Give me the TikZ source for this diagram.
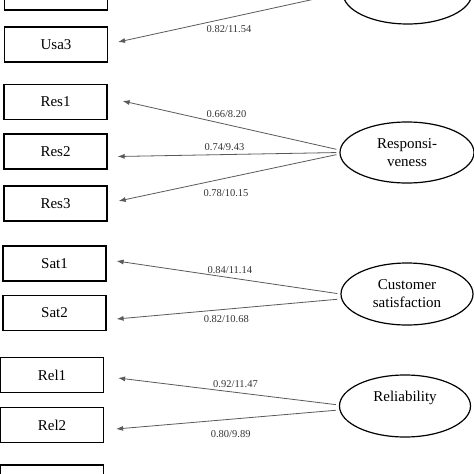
\documentclass[tikz,border=0pt]{standalone}
\usepackage{fontspec}
\setmainfont{Liberation Serif}
\usetikzlibrary{positioning}
\usetikzlibrary{arrows.meta}
\usetikzlibrary{shapes}

\begin{document}
\begin{tikzpicture}[x=1pt, y=-1pt,
        every node/.style={align=center, font=\fontsize{15}{18}\selectfont},
        itembox/.style={draw, line width=1.2pt, minimum width=103pt, minimum height=35pt, inner sep=0pt},
        factor/.style={draw, ellipse, line width=1.2pt, minimum width=132pt, minimum height=62pt, inner sep=0pt},
        load/.style={draw=black!65, line width=0.8pt, -{Latex[length=7pt,width=5pt]}, shorten <=3pt},
        coef/.style={font=\fontsize{10.5}{12}\selectfont, text=black!80, inner sep=1pt}]

        \useasboundingbox (0,0) rectangle (474,474);

        % Usability (cut off at the top)
        \node[factor, minimum width=129pt] (usa) at (407.5,-7) {};
        \node[itembox] (usa2) at (56,-7.5) {};
        \node[itembox] (usa3) at (56,44.5) {Usa3};

        % Responsiveness
        \node[factor, minimum width=134pt, minimum height=61pt] (resp) at (407,152.5) {Responsi-\\veness};
        \node[itembox] (res1) at (55.5,102) {Res1};
        \node[itembox] (res2) at (55.5,151.5) {Res2};
        \node[itembox] (res3) at (55.5,203.5) {Res3};

        % Customer satisfaction
        \node[factor] (sat) at (407,294) {Customer\\satisfaction};
        \node[itembox] (sat1) at (54.5,263.5) {Sat1};
        \node[itembox] (sat2) at (54.5,313) {Sat2};

        % Reliability
        \node[factor, minimum width=131pt, label={[yshift=8pt]center:Reliability}] (rel) at (405,406) {};
        \node[itembox] (rel1) at (52,375) {Rel1};
        \node[itembox] (rel2) at (52,425) {Rel2};
        \node[itembox] (rel3) at (52,482.5) {};

        % Loadings
        \draw[load] (usa.west) -- ([xshift=10pt,yshift=2.5pt]usa3.east);
        \draw[load] ([yshift=2.5pt]resp.west) -- ([xshift=15pt,yshift=1pt]res1.east);
        \draw[load] (resp.west) -- ([xshift=10pt,yshift=-5pt]res2.east);
        \draw[load] ([yshift=-1.5pt]resp.west) -- ([xshift=11pt,yshift=2.5pt]res3.east);
        \draw[load] (sat.west) -- ([xshift=10pt,yshift=2.5pt]sat1.east);
        \draw[load] ([yshift=-5pt]sat.west) -- ([xshift=10pt,yshift=-6pt]sat2.east);
        \draw[load] ([yshift=1pt]rel.west) -- ([xshift=14pt,yshift=-3pt]rel1.east);
        \draw[load] ([yshift=-4pt]rel.west) -- ([xshift=12pt,yshift=-4pt]rel2.east);

        % Coefficients
        \node[coef] (cusa3) at (229,29.5) {0.82/11.54};
        \node[coef] (cres1) at (226.5,113.7) {0.66/8.20};
        \node[coef] (cres2) at (224.5,147) {0.74/9.43};
        \node[coef] (cres3) at (226,193) {0.78/10.15};
        \node[coef] (csat1) at (229.8,269.7) {0.84/11.14};
        \node[coef] (csat2) at (226.3,319) {0.82/10.68};
        \node[coef] (crel1) at (235.5,383.8) {0.92/11.47};
        \node[coef] (crel2) at (230.7,433.8) {0.80/9.89};

\end{tikzpicture}
\end{document}
